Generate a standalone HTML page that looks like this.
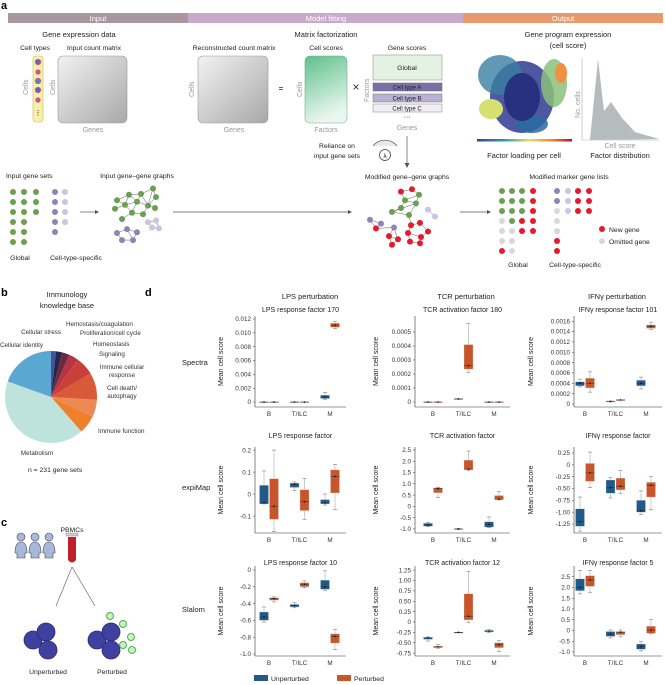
<!DOCTYPE html>
<html><head><meta charset="utf-8">
<style>
html,body{margin:0;padding:0;background:#fff;}
svg{display:block;font-family:"Liberation Sans",sans-serif;}
.t{font-size:7.5px;fill:#222;}
.s{font-size:6.8px;fill:#222;}
.g{font-size:7px;fill:#999;}
.tk{font-size:6.3px;fill:#333;}
.pl{font-size:11px;font-weight:bold;fill:#000;}
</style></head>
<body>
<svg id="fig" width="665" height="685" viewBox="0 0 665 685">
<defs>
<linearGradient id="gm" x1="0" y1="0" x2="1" y2="1"><stop offset="0" stop-color="#f2f2f2"/><stop offset="1" stop-color="#a8a8a8"/></linearGradient>
<linearGradient id="gg" x1="0" y1="0" x2="0.3" y2="1"><stop offset="0" stop-color="#5ec08a"/><stop offset="1" stop-color="#eaf7ef"/></linearGradient>
<linearGradient id="rb" x1="0" y1="0" x2="1" y2="0"><stop offset="0" stop-color="#3b3b9a"/><stop offset="0.3" stop-color="#2ea0b0"/><stop offset="0.55" stop-color="#e8e060"/><stop offset="0.8" stop-color="#f08030"/><stop offset="1" stop-color="#b01030"/></linearGradient>
</defs>

<!-- Panel a -->
<text class="pl" x="1" y="9">a</text>
<g>
<rect x="8" y="13" width="180" height="10" fill="#a9979f"/>
<rect x="188" y="13" width="275" height="10" fill="#c9a9c9"/>
<rect x="463" y="13" width="200" height="10" fill="#e79b6c"/>
<text x="98" y="21" text-anchor="middle" font-size="7.5" fill="#fff">Input</text>
<text x="326" y="21" text-anchor="middle" font-size="7.5" fill="#fff">Model fitting</text>
<text x="563" y="21" text-anchor="middle" font-size="7.5" fill="#fff">Output</text>
</g>

<g>
<text class="t" x="79" y="37" text-anchor="middle">Gene expression data</text>
<text class="s" x="35" y="50" text-anchor="middle">Cell types</text>
<text class="s" x="94" y="50" text-anchor="middle">Input count matrix</text>
<rect x="33" y="56" width="10" height="66" rx="3" fill="#f7f0a8" stroke="#c9b860" stroke-width="0.6"/>
<circle cx="38" cy="62" r="2.6" fill="#4a6cc0" stroke="#d05090"/><circle cx="38" cy="72" r="2.6" fill="#d05090"/>
<circle cx="38" cy="81" r="2.6" fill="#4a8ad0" stroke="#d05090"/><circle cx="38" cy="90" r="2.6" fill="#4a6cc0" stroke="#d05090"/>
<circle cx="38" cy="100" r="2.6" fill="#d05090"/><text x="38" y="115" font-size="7" text-anchor="middle">⋮</text>
<text class="g" transform="translate(28,95) rotate(-90)">Cells</text>
<text class="g" transform="translate(55,95) rotate(-90)">Cells</text>
<rect x="58" y="56" width="69" height="67" rx="5" fill="url(#gm)" stroke="#999" stroke-width="0.6"/>
<text class="g" x="93" y="132" text-anchor="middle">Genes</text>
</g>

<g>
<text class="t" x="326" y="37" text-anchor="middle">Matrix factorization</text>
<text class="s" x="234" y="50" text-anchor="middle">Reconstructed count matrix</text>
<rect x="198" y="56" width="70" height="67" rx="5" fill="url(#gm)" stroke="#999" stroke-width="0.6"/>
<text class="g" transform="translate(194,97) rotate(-90)">Cells</text>
<text class="g" x="234" y="132" text-anchor="middle">Genes</text>
<text x="281" y="91" font-size="8" text-anchor="middle">=</text>
<text class="s" x="326" y="50" text-anchor="middle">Cell scores</text>
<rect x="305" y="56" width="42" height="67" rx="5" fill="url(#gg)" stroke="#7a9" stroke-width="0.6"/>
<text class="g" transform="translate(302,97) rotate(-90)">Cells</text>
<text class="g" x="326" y="132" text-anchor="middle">Factors</text>
<text x="356" y="91" font-size="12" text-anchor="middle" fill="#333">×</text>
<text class="s" x="407" y="50" text-anchor="middle">Gene scores</text>
<rect x="373" y="55" width="69" height="25" fill="#e3f2e3" stroke="#999" stroke-width="0.6"/>
<text class="s" x="407" y="70" text-anchor="middle">Global</text>
<rect x="373" y="83" width="69" height="8" fill="#7a70a8" stroke="#666" stroke-width="0.5"/>
<text x="407" y="89.5" font-size="6" text-anchor="middle" fill="#222">Cell type A</text>
<rect x="373" y="94" width="69" height="8" fill="#b8b0d4" stroke="#777" stroke-width="0.5"/>
<text x="407" y="100.5" font-size="6" text-anchor="middle" fill="#222">Cell type B</text>
<rect x="373" y="104" width="69" height="8" fill="#efeff4" stroke="#888" stroke-width="0.5"/>
<text x="407" y="110.5" font-size="6" text-anchor="middle" fill="#222">Cell type C</text>
<text x="407" y="119" font-size="7" text-anchor="middle">···</text>
<text class="g" transform="translate(369,102) rotate(-90)">Factors</text>
<text class="g" x="407" y="130" text-anchor="middle">Genes</text>
<text class="s" x="337" y="148" text-anchor="middle">Reliance on</text>
<text class="s" x="337" y="158" text-anchor="middle">input gene sets</text>
<path d="M373 146 A14 12 0 0 1 397 146" fill="#e8e8e8" stroke="#555" stroke-width="0.7"/>
<circle cx="385" cy="155" r="5.5" fill="#fff" stroke="#444" stroke-width="0.8"/>
<text x="385" y="158" font-size="6.5" text-anchor="middle">λ</text>
<line x1="407" y1="136" x2="407" y2="165" stroke="#555" stroke-width="0.7"/>
<path d="M404.5 163 L407 168 L409.5 163Z" fill="#555"/>
</g>

<g>
<text class="t" x="568" y="37" text-anchor="middle">Gene program expression</text>
<text class="t" x="568" y="48" text-anchor="middle">(cell score)</text>
<g>
<ellipse cx="522" cy="97" rx="32" ry="36" fill="#2f3b8f" opacity="0.85"/>
<ellipse cx="500" cy="75" rx="22" ry="20" fill="#3a7ea0" opacity="0.8"/>
<ellipse cx="491" cy="109" rx="12" ry="10" fill="#d6e070"/>
<ellipse cx="554" cy="83" rx="13" ry="24" fill="#8ac07a" opacity="0.85"/>
<ellipse cx="561" cy="73" rx="6" ry="10" fill="#f09040"/>
<ellipse cx="532" cy="124" rx="16" ry="9" fill="#2a6aa0" opacity="0.85"/>
<ellipse cx="522" cy="97" rx="18" ry="24" fill="#283080"/>
</g>
<rect x="477" y="139" width="95" height="2.5" fill="url(#rb)"/>
<text class="t" x="524" y="158" text-anchor="middle">Factor loading per cell</text>
<line x1="582" y1="58" x2="582" y2="140" stroke="#aaa" stroke-width="0.6"/>
<line x1="582" y1="140" x2="659" y2="140" stroke="#aaa" stroke-width="0.6"/>
<path d="M590 140 L598 59 L604 111 L611 102 L622 118 L635 132 L659 139 Z" fill="#b4bcbc"/>
<text class="g" transform="translate(580,118) rotate(-90)">No. cells</text>
<text class="g" x="620" y="148" text-anchor="middle">Cell score</text>
<text class="t" x="620" y="158" text-anchor="middle">Factor distribution</text>
</g>

<g>
<text class="s" x="6" y="178">Input gene sets</text>
<text class="s" x="137" y="178" text-anchor="middle">Input gene–gene graphs</text>
<text class="s" x="407" y="179" text-anchor="middle">Modified gene–gene graphs</text>
<text class="s" x="569" y="179" text-anchor="middle">Modified marker gene lists</text>
<g id="dots"></g>
<text class="s" x="20" y="260" text-anchor="middle">Global</text>
<text class="s" x="76" y="260" text-anchor="middle">Cell-type-specific</text>
<text class="s" x="518" y="267" text-anchor="middle">Global</text>
<text class="s" x="575" y="267" text-anchor="middle">Cell-type-specific</text>
<circle cx="602" cy="229" r="3" fill="#e8192c"/><text class="s" x="609" y="232">New gene</text>
<circle cx="602" cy="241" r="3" fill="#d8d8dc"/><text class="s" x="609" y="244">Omitted gene</text>
<line x1="80" y1="212" x2="96" y2="212" stroke="#555" stroke-width="0.7"/><path d="M95 210 L99 212 L95 214Z" fill="#555"/>
<line x1="173" y1="212" x2="349" y2="212" stroke="#555" stroke-width="0.7"/><path d="M348 210 L352 212 L348 214Z" fill="#555"/>
<line x1="460" y1="212" x2="488" y2="212" stroke="#555" stroke-width="0.7"/><path d="M487 210 L491 212 L487 214Z" fill="#555"/>
</g>

<!-- Panel b -->
<text class="pl" x="1" y="296">b</text>
<text class="t" x="67" y="297" text-anchor="middle">Immunology</text>
<text class="t" x="67" y="308" text-anchor="middle">knowledge base</text>
<g id="pie"></g>
<text class="s" x="28" y="472">n = 231 gene sets</text>

<!-- Panel c -->
<text class="pl" x="1" y="526">c</text>
<g>
<text class="s" x="72" y="532" text-anchor="middle">PBMCs</text>
<g fill="#a8b8d8" stroke="#445" stroke-width="0.6">
<circle cx="21" cy="537" r="4"/><path d="M15 553 Q15 542 21 542 Q27 542 27 553 L25 553 L25 558 L17 558 L17 553Z"/>
<circle cx="35" cy="537" r="4"/><path d="M29 553 Q29 542 35 542 Q41 542 41 553 L39 553 L39 558 L31 558 L31 553Z"/>
<circle cx="49" cy="537" r="4"/><path d="M43 553 Q43 542 49 542 Q55 542 55 553 L53 553 L53 558 L45 558 L45 553Z"/>
</g>
<rect x="66" y="533" width="12" height="3" fill="#ccc" stroke="#888" stroke-width="0.4"/>
<path d="M68 537 L76 537 L76 560 Q72 565 68 560Z" fill="#c0202a"/>
<line x1="72" y1="567" x2="56" y2="606" stroke="#556" stroke-width="0.6"/>
<line x1="72" y1="567" x2="95" y2="606" stroke="#556" stroke-width="0.6"/>
<g fill="#4040a0" stroke="#2a2a70" stroke-width="0.8">
<circle cx="33" cy="640" r="9"/><circle cx="46" cy="632" r="9"/><circle cx="48" cy="650" r="9"/>
<circle cx="97" cy="640" r="9"/><circle cx="111" cy="632" r="9"/><circle cx="111" cy="650" r="9"/>
</g>
<g fill="#c8f0c0" stroke="#50b050" stroke-width="1">
<circle cx="110" cy="616" r="3.5"/><circle cx="123" cy="624" r="3.5"/><circle cx="131" cy="637" r="3.5"/><circle cx="123" cy="645" r="3.5"/><circle cx="132" cy="650" r="3.5"/>
</g>
<text class="s" x="48" y="674" text-anchor="middle">Unperturbed</text>
<text class="s" x="112" y="674" text-anchor="middle">Perturbed</text>
</g>

<!-- Panel d -->
<text class="pl" x="145" y="296">d</text>
<text class="t" x="310" y="299" text-anchor="middle">LPS perturbation</text>
<text class="t" x="466" y="299" text-anchor="middle">TCR perturbation</text>
<text class="t" x="617" y="299" text-anchor="middle">IFNγ perturbation</text>
<text class="t" x="182" y="365">Spectra</text>
<text class="t" x="182" y="490">expiMap</text>
<text class="t" x="182" y="612">Slalom</text>
<g id="boxes"></g>
<g>
<rect x="254" y="675" width="14" height="6" fill="#215a8a"/>
<text class="s" x="271" y="681">Unperturbed</text>
<rect x="337" y="675" width="14" height="6" fill="#c9562a"/>
<text class="s" x="354" y="681">Perturbed</text>
</g>
</svg>

<script>
const NS='http://www.w3.org/2000/svg';
function mk(tag,attrs,parent){const e=document.createElementNS(NS,tag);for(const k in attrs)e.setAttribute(k,attrs[k]);parent.appendChild(e);return e;}

// ---- Pie data ----
const pieLabels=['Cellular stress','Hemostasis/coagulation','Proliferation/cell cycle','Homeostasis','Signaling','Immune cellular response','Cell death/ autophagy','Immune function','Metabolism','Cellular identity'];
const pieValues=[4,5,6,8,15,22,14,15,97,45];
(function(){
 const g=document.getElementById('pie');const cx=51,cy=397,r=46;
 const c10=['#4a4ea0','#202845','#6a2a40','#b83445','#c9403a','#d95a38','#ec8a55','#f07f2a','#bde3dc','#5aa7d2'];
 const tot=pieValues.reduce((a,b)=>a+b,0);let a0=0;
 const lab=[[61,334,'end',0],[66,326,'start',0],[80,335,'start',0],[93,346,'start',0],[99,356,'start',0],[122,369,'middle',1],[122,390,'middle',1],[98,433,'start',0],[37,455,'middle',0],[0,347,'start',0]];
 pieValues.forEach((v,i)=>{
  const a1=a0+v/tot*2*Math.PI;
  const x0=cx+r*Math.sin(a0),y0=cy-r*Math.cos(a0),x1=cx+r*Math.sin(a1),y1=cy-r*Math.cos(a1);
  const p=mk('path',{d:`M${cx} ${cy} L${x0} ${y0} A${r} ${r} 0 ${a1-a0>Math.PI?1:0} 1 ${x1} ${y1}Z`,fill:c10[i]},g);
  
  
  const t=mk('text',{x:lab[i][0],y:lab[i][1],'text-anchor':lab[i][2],'font-size':'6.3',fill:'#333'},g);
  
  
  if(lab[i][3]){
   const parts=i===5?['Immune cellular','response']:['Cell death/','autophagy'];
   parts.forEach((s,k)=>{const ts=mk('tspan',{x:lab[i][0],dy:k?8:0},t);ts.textContent=s;});
  } else t.textContent=pieLabels[i];
  a0=a1;
 });
})();

// ---- gene dots ----
(function(){
 const g=document.getElementById('dots');const SY=0.782;
 const G='#6aa050',P='#8a86b8',L='#c8c6e0',R='#e8192c',O='#d8d8dc';
 const inG=[[G,G,G],[G,G,G],[G,G,G],[G,G],[G,G],[G,G]];
 const inC=[[P,L],[P,L],[P,L],[P,L],[P]];
 const mG=[[G,G,G,R],[G,G,G,R],[G,G,G,R],[O,G,R,R],[O,O,R,R],[O,O],[R,O]];
 const mC=[[P,L,R,R],[P,L,R,R],[O,L,R,R],[O],[O],[R],[R]];
 function grid(arr,xs,y0,dy){arr.forEach((row,i)=>row.forEach((c,j)=>mk('circle',{cx:xs[j],cy:y0+i*dy,r:3,fill:c},g)));}
 grid(inG,[13,24,36],192,10);grid(inC,[55,65],192,10);
 grid(mG,[502,512,522,533],191,10);grid(mC,[557,568,578,589],191,10);
 function graph(nodes,edges){const ny=n=>n[1]*SY;edges.forEach(e=>mk('line',{x1:nodes[e[0]][0],y1:ny(nodes[e[0]]),x2:nodes[e[1]][0],y2:ny(nodes[e[1]]),stroke:'#333','stroke-width':0.4},g));nodes.forEach(n=>mk('circle',{cx:n[0],cy:ny(n),r:3,fill:n[2]},g));}
 const G2='#6aa050';
 graph([[117,256,G2],[129,249,G2],[141,248,G2],[153,241,G2],[156,252,G2],[115,267,G2],[125,262,G2],[137,258,G2],[148,263,G2],[132,272,G2],[122,280,G2],[143,274,G2],[155,266,G2]],
  [[0,1],[1,2],[2,3],[3,4],[0,6],[1,6],[6,7],[7,2],[7,8],[8,4],[5,6],[6,9],[9,10],[9,11],[11,8],[8,12],[2,8],[1,7],[7,9],[3,8]]);
 graph([[117,298,P],[127,293,P],[137,297,P],[122,307,P],[133,307,P]],[[0,1],[1,2],[0,3],[3,4],[4,2],[1,4]]);
 graph([[148,284,L],[156,282,L],[152,291,L],[159,292,L]],[[0,1],[0,2],[2,3],[1,3]]);
 graph([[401,245,R],[412,242,R],[419,249,G2],[405,256,G2],[416,260,G2],[401,266,G2],[392,271,G2],[409,275,G2],[428,268,L],[435,277,L],[370,281,P],[381,286,P],[376,292,R],[394,291,P],[389,302,R],[398,306,R],[392,313,R],[411,288,R],[420,285,R],[408,298,R],[421,303,R],[428,296,R],[420,311,R],[410,309,R]],
  [[0,1],[1,2],[0,3],[2,3],[3,4],[2,4],[3,5],[4,6],[5,6],[4,7],[6,7],[8,9],[10,11],[11,12],[12,13],[10,12],[13,14],[14,15],[15,16],[14,16],[7,17],[17,18],[17,19],[18,21],[19,20],[20,21],[20,22],[19,23],[22,23],[13,15]]);
})();

// ---- Box plots ----
const categories=['B','T/ILC','M'];
const groups=['Unperturbed','Perturbed'];
const titles=['LPS response factor 170','TCR activation factor 180','IFNγ response factor 101','LPS response factor','TCR activation factor','IFNγ response factor','LPS response factor 10','TCR activation factor 12','IFNγ response factor 5'];
const domains=[[-0.00072,0.01243],[-0.0000357,0.000614],[-0.0000578,0.0017],[-0.177,0.214],[-1.18,2.63],[-1.44,0.377],[-1.024,0.048],[-0.82,1.35],[-1.19,3.0]];
const ticks=[[0,0.002,0.004,0.006,0.008,0.010,0.012],[0,0.0001,0.0002,0.0003,0.0004,0.0005],[0,0.0002,0.0004,0.0006,0.0008,0.0010,0.0012,0.0014,0.0016],
 [-0.1,0,0.1,0.2],[-1,-0.5,0,0.5,1,1.5,2,2.5],[-1.25,-1,-0.75,-0.5,-0.25,0,0.25],
 [-1,-0.8,-0.6,-0.4,-0.2,0],[-0.75,-0.5,-0.25,0,0.25,0.5,0.75,1,1.25],[-1,-0.5,0,0.5,1,1.5,2,2.5]];
const tickLabels=[['0','0.002','0.004','0.006','0.008','0.010','0.012'],['0','0.0001','0.0002','0.0003','0.0004','0.0005'],['0','0.0002','0.0004','0.0006','0.0008','0.0010','0.0012','0.0014','0.0016'],
 ['-0.1','0','0.1','0.2'],['-1.0','-0.5','0','0.5','1.0','1.5','2.0','2.5'],['-1.25','-1.00','-0.75','-0.50','-0.25','0','0.25'],
 ['-1.0','-0.8','-0.6','-0.4','-0.2','0'],['-0.75','-0.50','-0.25','0','0.25','0.50','0.75','1.00','1.25'],['-1.0','-0.5','0','0.5','1.0','1.5','2.0','2.5']];
// each panel: [cat] = [min,q1,median,q3,max]
const unperturbed=[
 [[0,0,0,0,0],[0,0,0,0,0],[0.0004,0.0005,0.0007,0.001,0.0014]],
 [[0,0,0,0,0],[0.00002,0.000021,0.000022,0.000023,0.000024],[0,0,0,0,0]],
 [[0.00033,0.00035,0.0004,0.00043,0.00048],[0.00004,0.00005,0.00005,0.00006,0.00006],[0.00029,0.00035,0.0004,0.00046,0.00052]],
 [[-0.045,-0.045,-0.04,0.04,0.105],[0.015,0.03,0.045,0.05,0.055],[-0.05,-0.045,-0.04,-0.025,0]],
 [[-0.9,-0.88,-0.82,-0.75,-0.7],[-1.03,-1.02,-1.0,-0.99,-0.98],[-0.95,-0.92,-0.8,-0.68,-0.47]],
 [[-1.4,-1.3,-1.2,-0.93,-0.68],[-0.7,-0.6,-0.48,-0.32,-0.27],[-1.05,-1.0,-0.97,-0.75,-0.55]],
 [[-0.62,-0.6,-0.56,-0.5,-0.44],[-0.45,-0.44,-0.42,-0.41,-0.39],[-0.24,-0.23,-0.2,-0.12,-0.01]],
 [[-0.46,-0.42,-0.38,-0.37,-0.36],[-0.25,-0.25,-0.25,-0.25,-0.25],[-0.25,-0.24,-0.22,-0.2,-0.18]],
 [[1.7,1.85,2.0,2.4,2.8],[-0.35,-0.28,-0.17,-0.05,0.02],[-0.95,-0.88,-0.75,-0.63,-0.52]]
];
const perturbed=[
 [[0,0,0,0,0],[0,0,0,0,0],[0.0106,0.0108,0.0111,0.0114,0.0116]],
 [[0,0,0,0,0],[0.00021,0.000235,0.00026,0.00041,0.00056],[0,0,0,0,0]],
 [[0.00023,0.00031,0.0004,0.0005,0.00062],[0.00007,0.00007,0.00008,0.00008,0.00008],[0.00144,0.00146,0.0015,0.00153,0.00158]],
 [[-0.17,-0.115,-0.055,0.07,0.2],[-0.115,-0.075,-0.035,0.02,0.07],[-0.07,0.005,0.08,0.11,0.135]],
 [[0.4,0.6,0.78,0.82,0.85],[1.6,1.62,1.65,2.05,2.45],[0.28,0.3,0.32,0.48,0.65]],
 [[-0.48,-0.35,-0.17,0.03,0.27],[-0.6,-0.53,-0.45,-0.28,-0.12],[-0.95,-0.68,-0.43,-0.37,-0.25]],
 [[-0.38,-0.36,-0.34,-0.33,-0.32],[-0.21,-0.2,-0.17,-0.15,-0.13],[-0.95,-0.87,-0.79,-0.76,-0.71]],
 [[-0.63,-0.62,-0.6,-0.58,-0.55],[-0.02,0.05,0.14,0.68,1.22],[-0.71,-0.62,-0.55,-0.5,-0.44]],
 [[1.78,2.05,2.35,2.55,2.8],[-0.3,-0.2,-0.08,-0.05,0.02],[-0.15,-0.13,0.02,0.2,0.5]]
];
(function(){
 const root=document.getElementById('boxes');
 const colAxis=[255,415,574],colB=[269,433,585],rowTop=[316,447,566],rowBot=[407,533,656],subY=[312,438,565],mcsX=[223,378,533];
 const colors=['#215a8a','#c9562a'];
 for(let p=0;p<9;p++){
  const r=Math.floor(p/3),c=p%3;
  const g=mk('g',{},root);
  
  
  const [lo,hi]=domains[p];const top=rowTop[r],bot=rowBot[r];
  const y=v=>bot-(v-lo)/(hi-lo)*(bot-top);
  const xc=i=>colB[c]+i*30.5;
  const ax=colAxis[c],right=colB[c]+2*30.5+16;
  mk('line',{x1:ax,y1:top,x2:ax,y2:bot,stroke:'#333','stroke-width':0.6},g);
  mk('line',{x1:ax,y1:bot,x2:right,y2:bot,stroke:'#333','stroke-width':0.6},g);
  const tt=mk('text',{x:(ax+right)/2,y:subY[r],'text-anchor':'middle','font-size':'7',fill:'#222'},g);
  tt.textContent=titles[p];
  
  
  const yl=mk('text',{transform:`translate(${mcsX[c]},${(top+bot)/2}) rotate(-90)`,'text-anchor':'middle','font-size':'7',fill:'#222'},g);
  yl.textContent='Mean cell score';
  
  
  ticks[p].forEach((t,i)=>{
   const yy=y(t);
   mk('line',{x1:ax-2,y1:yy,x2:ax,y2:yy,stroke:'#333','stroke-width':0.5},g);
   const tl=mk('text',{x:ax-4,y:yy+2.2,'text-anchor':'end',class:'tk'},g);
   tl.textContent=tickLabels[p][i];
   
   
  });
  categories.forEach((cat,i)=>{
   const xl=mk('text',{x:xc(i),y:bot+9,'text-anchor':'middle',class:'tk','font-size':'7'},g);
   xl.textContent=cat;
   
   
   [unperturbed,perturbed].forEach((set,gi)=>{
    const s=set[p][i];const cx=xc(i)+(gi?5:-5);const w=9;
    const bg=mk('g',{},g);
    
    
    mk('line',{x1:cx,y1:y(s[0]),x2:cx,y2:y(s[4]),stroke:'#aaa','stroke-width':0.6},bg);
    mk('line',{x1:cx-2,y1:y(s[0]),x2:cx+2,y2:y(s[0]),stroke:'#666','stroke-width':0.5},bg);
    mk('line',{x1:cx-2,y1:y(s[4]),x2:cx+2,y2:y(s[4]),stroke:'#666','stroke-width':0.5},bg);
    const h=Math.max(0.8,y(s[1])-y(s[3]));
    mk('rect',{x:cx-w/2,y:y(s[3]),width:w,height:h,fill:colors[gi],stroke:'#ddd','stroke-width':0.3},bg);
    mk('line',{x1:cx-w/2,y1:y(s[2]),x2:cx+w/2,y2:y(s[2]),stroke:'#333','stroke-width':0.5},bg);
    mk('circle',{cx:cx,cy:y(s[2]),r:0.8,fill:'#111'},bg);
   });
  });
 }
})();
</script>
</body></html>
